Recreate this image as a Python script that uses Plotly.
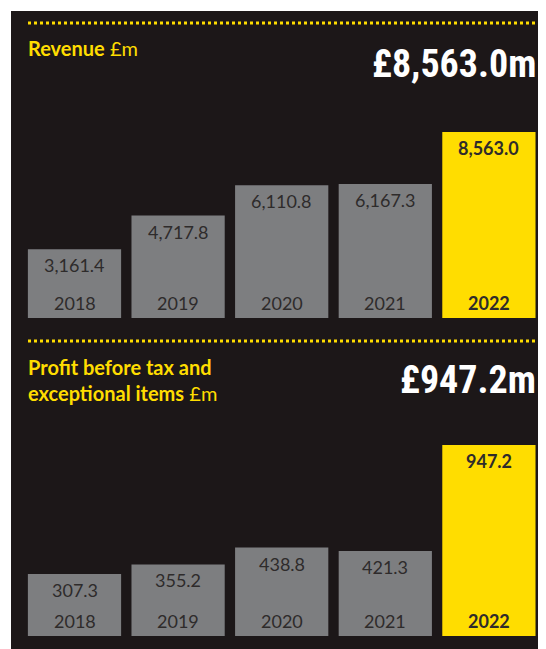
import plotly.graph_objects as go
from plotly.subplots import make_subplots

years = ["2018", "2019", "2020", "2021", "2022"]
revenue = [3161.4, 4717.8, 6110.8, 6167.3, 8563.0]
profit = [307.3, 355.2, 438.8, 421.3, 947.2]

W, H = 546, 649
GREY = "#7d7e80"
YELLOW = "#ffdd00"
BG = "#1c1718"
TXT = "#2e2b2b"

def px(x): return x / W
def py(y): return 1 - y / H

fig = make_subplots(rows=2, cols=1)
xs = list(range(len(years)))
cols = [GREY] * 4 + [YELLOW]
fig.add_trace(go.Bar(x=xs, y=revenue, marker_color=cols, width=0.9, marker_line_width=0), row=1, col=1)
fig.add_trace(go.Bar(x=xs, y=profit, marker_color=cols, width=0.9, marker_line_width=0), row=2, col=1)

xdom = [px(14.7), px(532.7)]
fig.update_layout(
    width=W, height=H, margin=dict(l=0, r=0, t=0, b=0),
    paper_bgcolor="white", plot_bgcolor="rgba(0,0,0,0)", showlegend=False,
    xaxis=dict(domain=xdom, range=[-0.5, 4.5], visible=False),
    xaxis2=dict(domain=xdom, range=[-0.5, 4.5], visible=False),
    yaxis=dict(domain=[py(310), py(124)], range=[0, 8563.0], visible=False),
    yaxis2=dict(domain=[py(628), py(437)], range=[0, 947.2], visible=False),
)

fig.add_shape(type="rect", xref="paper", yref="paper", x0=px(3), x1=px(543), y0=py(646), y1=py(3),
              fillcolor=BG, line_width=0, layer="below")
for yy in [15, 333]:
    fig.add_shape(type="line", xref="paper", yref="paper", x0=px(20), x1=px(528), y0=py(yy), y1=py(yy),
                  line=dict(color=YELLOW, width=3, dash="dot"))

font = "Lato, Noto Sans, sans-serif"
for row, vals in [(1, revenue), (2, profit)]:
    xr, yr = ("x", "y") if row == 1 else ("x2", "y2")
    for i, v in enumerate(vals):
        last = i == len(vals) - 1
        t = f"{v:,.1f}"
        fig.add_annotation(x=i, y=v, xref=xr, yref=yr, text=f"<b>{t}</b>" if last else t,
                           showarrow=False, yshift=-16, yanchor="middle",
                           font=dict(family=font, size=18, color=TXT))
        fig.add_annotation(x=i, y=0, xref=xr, yref=yr, text=f"<b>{years[i]}</b>" if last else years[i],
                           showarrow=False, yshift=15, yanchor="middle",
                           font=dict(family=font, size=18, color=TXT))

fig.add_annotation(x=px(18), y=py(40), xref="paper", yref="paper", xanchor="left", yanchor="middle",
                   text="<b>Revenue</b> £m", showarrow=False, font=dict(family=font, size=20, color=YELLOW))
fig.add_annotation(x=px(18), y=py(372), xref="paper", yref="paper", xanchor="left", yanchor="middle", align="left",
                   text="<b>Profit before tax and</b><br><b>exceptional items</b> £m", showarrow=False,
                   font=dict(family=font, size=20, color=YELLOW))
big = "Liberation Sans Narrow, Roboto Condensed, sans-serif"
fig.add_annotation(x=px(530), y=py(56), xref="paper", yref="paper", xanchor="right", yanchor="middle",
                   text="<b>£8,563.0m</b>", showarrow=False, font=dict(family=big, size=38, color="white"))
fig.add_annotation(x=px(530), y=py(372), xref="paper", yref="paper", xanchor="right", yanchor="middle",
                   text="<b>£947.2m</b>", showarrow=False, font=dict(family=big, size=38, color="white"))

fig.write_html("out.html")
